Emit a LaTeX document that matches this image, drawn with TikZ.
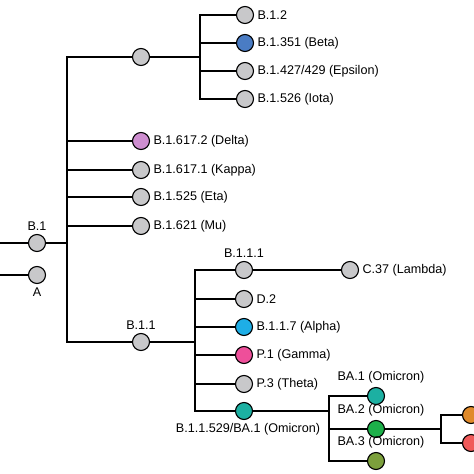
\documentclass[tikz,border=0pt]{standalone}
\usepackage{fontspec}
\setmainfont{Liberation Sans}
\definecolor{grey}{HTML}{C8C8CA}
\definecolor{beta}{HTML}{4A7CC4}
\definecolor{delta}{HTML}{CE8ED0}
\definecolor{alpha}{HTML}{1EAEE6}
\definecolor{gamma}{HTML}{EE4F9A}
\definecolor{omicron}{HTML}{1CB0A2}
\definecolor{ba2}{HTML}{1DB04A}
\definecolor{ba3}{HTML}{7CA03C}
\definecolor{ba2a}{HTML}{E08A2A}
\definecolor{ba2b}{HTML}{F05A5A}

\tikzset{
	variant/.style={circle, draw, line width=1.1pt, fill=#1, minimum size=17pt, inner sep=0pt},
	variant/.default=grey,
	branch/.style={line width=1.6pt}
}

\begin{document}
\begin{tikzpicture}[x=1pt, y=-1pt, font=\fontsize{12.6}{15}\selectfont]
\useasboundingbox (0,0) rectangle (474,474);

% roots
\node[variant, label=above:B.1] (b1) at (37,243) {};
\node[variant, label=below:A] (a) at (37,275) {};
\coordinate (b1in) at (0,243);
\coordinate (ain) at (0,275);
\coordinate (j1) at (67,243);

% B.1 lineages
\node[variant] (top) at (141,57) {};
\node[variant=delta, label=right:B.1.617.2 (Delta)] (delta) at (141,141) {};
\node[variant, label=right:B.1.617.1 (Kappa)] (kappa) at (141,170) {};
\node[variant, label=right:B.1.525 (Eta)] (eta) at (141,197) {};
\node[variant, label=right:B.1.621 (Mu)] (mu) at (141,226) {};
\node[variant, label=above:B.1.1] (b11) at (141,342) {};

\coordinate (j2) at (200,57);
\node[variant, label=right:B.1.2] (b12) at (245,15) {};
\node[variant=beta, label=right:B.1.351 (Beta)] (beta) at (245,43) {};
\node[variant, label=right:B.1.427/429 (Epsilon)] (epsilon) at (245,71) {};
\node[variant, label=right:B.1.526 (Iota)] (iota) at (245,99) {};

% B.1.1 lineages
\coordinate (j3) at (195,342);
\node[variant, label=above:B.1.1.1] (b111) at (244,270) {};
\node[variant, label=right:D.2] (d2) at (244,299) {};
\node[variant=alpha, label=right:B.1.1.7 (Alpha)] (alpha) at (244,327) {};
\node[variant=gamma, label=right:P.1 (Gamma)] (gamma) at (244,355) {};
\node[variant, label=right:P.3 (Theta)] (theta) at (244,384) {};
\node[variant=omicron, label={[xshift=4pt]below:B.1.1.529/BA.1 (Omicron)}] (omicron) at (244,411) {};
\node[variant, label=right:C.37 (Lambda)] (lambda) at (350,270) {};

% Omicron sublineages
\coordinate (j4) at (329,411);
\node[variant=omicron, label={[xshift=5pt]above:BA.1 (Omicron)}] (ba1) at (376,396) {};
\node[variant=ba2, label={[xshift=5pt]above:BA.2 (Omicron)}] (ba2) at (376,429) {};
\node[variant=ba3, label={[xshift=5pt]above:BA.3 (Omicron)}] (ba3) at (376,461) {};
\coordinate (j5) at (441,429);
\node[variant=ba2a] (ba2x) at (471,415) {};
\node[variant=ba2b] (ba2y) at (471,443) {};

% edges
\draw[branch] (b1in) -- (b1) -- (j1);
\draw[branch] (ain) -- (a);
\foreach \n in {top, delta, kappa, eta, mu, b11}
	\draw[branch] (j1) |- (\n);
\draw[branch] (top) -- (j2);
\foreach \n in {b12, beta, epsilon, iota}
	\draw[branch] (j2) |- (\n);
\draw[branch] (b11) -- (j3);
\foreach \n in {b111, d2, alpha, gamma, theta, omicron}
	\draw[branch] (j3) |- (\n);
\draw[branch] (b111) -- (lambda);
\draw[branch] (omicron) -- (j4);
\foreach \n in {ba1, ba2, ba3}
	\draw[branch] (j4) |- (\n);
\draw[branch] (ba2) -- (j5);
\foreach \n in {ba2x, ba2y}
	\draw[branch] (j5) |- (\n);
\end{tikzpicture}
\end{document}
